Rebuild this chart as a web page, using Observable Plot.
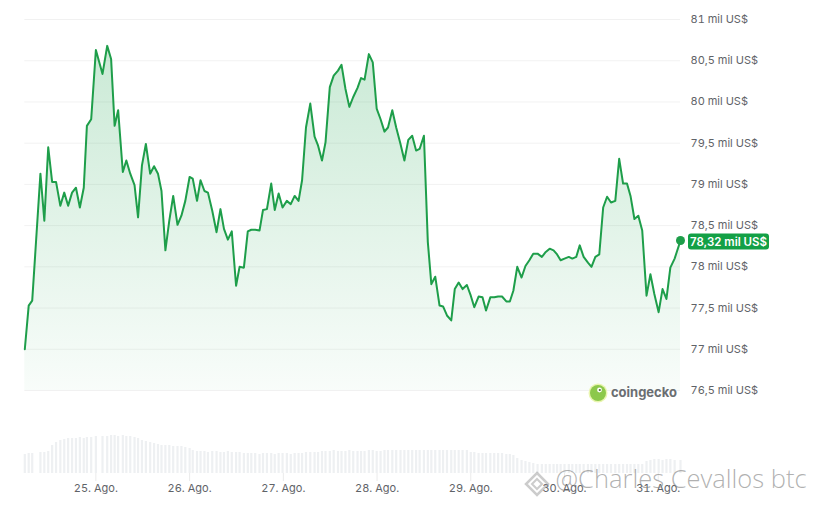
<!DOCTYPE html>
<html><head><meta charset="utf-8">
<script src="https://cdn.jsdelivr.net/npm/d3@7"></script>
<script src="https://cdn.jsdelivr.net/npm/@observablehq/plot@0.6"></script>
<style>
body{margin:0;background:#fff;font-family:Inter,"Open Sans",sans-serif;}
#chart{width:817px;height:507px;position:relative;overflow:hidden;background:#fff}
#chart svg{display:block}
</style></head><body><div id="chart"></div>
<script>
// hours since 24 Ago 00:00 (UTC)
const hours = [5.8,6.8,7.7,9.8,10.8,11.8,12.8,13.8,14.9,15.9,16.9,17.9,18.9,19.9,20.9,21.7,22.8,24.0,25.7,26.9,
27.9,28.8,29.7,30.9,31.8,32.8,33.9,34.8,35.8,36.8,37.9,38.9,39.9,40.8,41.8,42.8,43.8,44.9,45.9,46.9,
48.0,48.8,49.9,50.8,51.8,52.7,53.8,54.9,55.9,56.8,57.8,58.8,59.9,60.8,61.9,62.9,63.8,64.8,65.9,66.8,
67.8,68.9,69.8,70.8,71.8,72.9,73.9,74.9,75.9,76.8,77.8,78.9,80.0,80.9,81.9,82.8,83.9,84.9,86.0,86.9,
87.9,88.9,89.9,91.0,91.9,92.8,93.9,94.9,95.9,96.9,97.9,98.8,99.9,100.9,102.0,103.0,104.0,105.0,106.0,106.9,
108.0,109.0,109.9,110.9,112.0,112.9,113.9,115.0,115.9,116.9,117.9,119.0,120.0,120.9,122.0,123.0,123.9,125.0,126.0,127.0,
128.0,129.1,130.0,130.9,131.9,133.0,134.0,135.0,136.0,137.1,138.2,139.2,140.2,141.2,142.1,143.0,144.0,145.1,146.0,147.0,
147.9,148.9,150.0,150.9,151.9,152.9,153.9,154.9,155.9,157.0,158.0,159.0,160.0,160.9,161.9,162.9,163.9,165.0,166.0,167.0,
168.1,169.1,170.1,171.1,172.2,173.7];
// price, thousands of US$
const prices = [77.00,77.53,77.59,79.13,78.56,79.45,79.03,79.03,78.74,78.90,78.74,78.90,78.96,78.72,78.96,79.71,79.79,80.63,80.34,80.68,
80.52,79.71,79.90,79.15,79.29,79.13,78.99,78.60,79.23,79.49,79.13,79.22,79.13,78.92,78.20,78.56,78.86,78.51,78.62,78.80,
79.09,79.07,78.80,79.05,78.92,78.90,78.68,78.42,78.70,78.46,78.33,78.43,77.77,78.00,77.99,78.43,78.45,78.45,78.44,78.69,
78.70,79.01,78.69,78.89,78.72,78.80,78.76,78.86,78.80,79.05,79.69,79.98,79.58,79.47,79.29,79.51,80.18,80.32,80.38,80.45,
80.16,79.94,80.06,80.17,80.29,80.27,80.58,80.48,79.92,79.79,79.64,79.69,79.90,79.69,79.49,79.29,79.54,79.59,79.41,79.43,
79.59,78.30,77.79,77.88,77.53,77.52,77.41,77.35,77.73,77.81,77.73,77.78,77.65,77.51,77.64,77.63,77.47,77.63,77.63,77.64,
77.64,77.58,77.58,77.71,78.00,77.87,78.01,78.08,78.16,78.16,78.12,78.18,78.22,78.20,78.15,78.08,78.10,78.12,78.10,78.12,
78.26,78.12,78.05,78.00,78.12,78.15,78.72,78.85,78.78,78.80,79.31,79.01,79.01,78.86,78.58,78.62,78.44,77.65,77.91,77.67,
77.45,77.73,77.61,77.99,78.10,78.32];
// volume (relative units)
const volumes = [19,20,20,21,21,22,28,31,33,34,35,35,35,36,35,36,36,37,37,37,
38,38,37,38,37,37,36,35,33,32,31,30,29,28,28,28,27,27,27,26,
25,23,22,22,22,21,22,22,21,21,22,21,21,21,20,20,20,20,19,20,
20,20,19,20,20,20,19,20,20,20,21,21,21,21,22,22,22,23,22,22,
22,23,22,22,22,22,23,23,22,22,23,23,23,23,23,23,23,23,23,23,
23,23,23,23,23,23,23,23,23,23,23,23,21,21,20,20,20,20,20,20,
20,19,19,18,15,13,12,11,10,9,9,9,9,9,9,9,9,9,9,9,
9,9,9,9,9,9,9,9,9,9,9,9,9,9,9,9,9,12,13,14,
14,13,14,14,13,13];
const yTicks = [76.5,77,77.5,78,78.5,79,79.5,80,80.5,81];
const dayTicks = [25,26,27,28,29,30,31];
const monthLabel = "Ago.";
const lastLabel = "78,32 mil US$";
const brand = "coingecko";
const watermark = "@Charles Cevallos btc";

const base = Date.UTC(2024, 7, 24);
const data = hours.map((h, i) => ({date: new Date(base + h * 3600e3), price: prices[i], volume: volumes[i]}));
const last = data[data.length - 1];
const xDomain = [data[0].date, last.date];
const tickDates = dayTicks.map(d => new Date(Date.UTC(2024, 7, d)));
const fmtY = v => `${String(v).replace(".", ",")} mil US$`;

const green = "#1e9e4a";
const badgeGreen = "#13a046";
const textGrey = "#5f6368";

const gradient = () => {
  const defs = d3.create("svg:defs");
  const lg = defs.append("linearGradient").attr("id", "areaGrad")
    .attr("x1", 0).attr("x2", 0).attr("y1", 0).attr("y2", 1);
  lg.append("stop").attr("offset", "0%").attr("stop-color", "#22a652").attr("stop-opacity", 0.24);
  lg.append("stop").attr("offset", "100%").attr("stop-color", "#22a652").attr("stop-opacity", 0.03);
  return defs.node();
};

const badge = (index, scales, values, dim) => {
  const g = d3.create("svg:g");
  const cy = scales.y(last.price) + 1.5;
  const x0 = dim.width - dim.marginRight + 8;
  g.append("rect").attr("x", x0).attr("y", cy - 8).attr("width", 81).attr("height", 16)
    .attr("rx", 3).attr("fill", badgeGreen);
  g.append("text").attr("x", x0 + 40.5).attr("y", cy).attr("dy", "0.36em")
    .attr("text-anchor", "middle").attr("fill", "white").attr("font-size", 11.5)
    .attr("font-weight", 600).attr("font-family", "Inter, sans-serif").text(lastLabel);
  return g.node();
};

const logo = (index, scales, values, dim) => {
  const g = d3.create("svg:g");
  const right = dim.width - dim.marginRight;
  const bottom = dim.height - dim.marginBottom;
  const cx = right - 82, cy = bottom + 3;
  g.append("circle").attr("cx", cx).attr("cy", cy).attr("r", 9.5).attr("fill", "#e9f5b0");
  g.append("circle").attr("cx", cx).attr("cy", cy).attr("r", 8).attr("fill", "#8cc84b");
  g.append("circle").attr("cx", cx + 1.5).attr("cy", cy - 3).attr("r", 2.4).attr("fill", "#fff");
  g.append("circle").attr("cx", cx + 1.8).attr("cy", cy - 3).attr("r", 1.1).attr("fill", "#4a6b2a");
  g.append("text").attr("x", right - 3).attr("y", cy).attr("dy", "0.32em")
    .attr("text-anchor", "end").attr("fill", "#6b6e72").attr("font-size", 13)
    .attr("font-weight", 700).attr("font-family", "Inter, sans-serif").text(brand);
  return g.node();
};

const p1 = Plot.plot({
  width: 817, height: 420,
  marginTop: 19, marginBottom: 30, marginLeft: 24.3, marginRight: 137,
  x: {type: "utc", domain: xDomain, axis: null},
  y: {domain: [76.5, 81], axis: null},
  style: {fontFamily: "Inter, sans-serif", fontSize: "11px", color: textGrey, background: "white"},
  marks: [
    gradient,
    Plot.gridY(yTicks, {stroke: "#000", strokeOpacity: 0.055}),
    Plot.axisY(yTicks, {anchor: "right", label: null, tickSize: 0, tickPadding: 10, tickFormat: fmtY, fill: textGrey, fontSize: 11}),
    Plot.areaY(data, {x: "date", y1: 76.5, y2: "price", fill: "url(#areaGrad)"}),
    Plot.lineY(data, {x: "date", y: "price", stroke: green, strokeWidth: 2}),
    Plot.dot([last], {x: "date", y: "price", r: 4.5, fill: green}),
    badge,
    logo
  ]
});

const diamond = (index, scales, values, dim) => {
  const g = d3.create("svg:g").attr("fill", "none").attr("stroke", "#9a9a9a").attr("stroke-opacity", 0.5);
  const cx = 537, cy = dim.height - dim.marginBottom + 11;
  g.append("path").attr("d", `M${cx},${cy - 11}L${cx + 11},${cy}L${cx},${cy + 11}L${cx - 11},${cy}Z`).attr("stroke-width", 2.5);
  g.append("path").attr("d", `M${cx},${cy - 5}L${cx + 5},${cy}L${cx},${cy + 5}L${cx - 5},${cy}Z`).attr("stroke-width", 2);
  return g.node();
};

const p2 = Plot.plot({
  width: 817, height: 87,
  marginTop: 0, marginBottom: 34, marginLeft: 24.3, marginRight: 137,
  x: {type: "utc", domain: xDomain, axis: null},
  y: {domain: [0, 53], axis: null},
  style: {fontFamily: "Inter, sans-serif", fontSize: "11px", color: textGrey, background: "white", overflow: "visible"},
  marks: [
    Plot.ruleX(data, {x: "date", y1: 0, y2: "volume", stroke: "#eef0f2", strokeWidth: 2.2}),
    Plot.axisX(tickDates, {label: null, tickSize: 8, tickPadding: 3, stroke: "#ebebeb", fill: textGrey, fontSize: 11,
      tickFormat: d => `${d.getUTCDate()}. ${monthLabel}`}),
    diamond,
    Plot.text([watermark], {frameAnchor: "bottom-left", dx: 555 - 24.3, dy: 14, textAnchor: "start",
      fontSize: 25.5, fontWeight: 300, fontFamily: "Open Sans, sans-serif", fill: "#7d7d7d", fillOpacity: 0.6,
      text: d => d})
  ]
});

const chart = document.getElementById("chart");
chart.append(p1, p2);
</script></body></html>
